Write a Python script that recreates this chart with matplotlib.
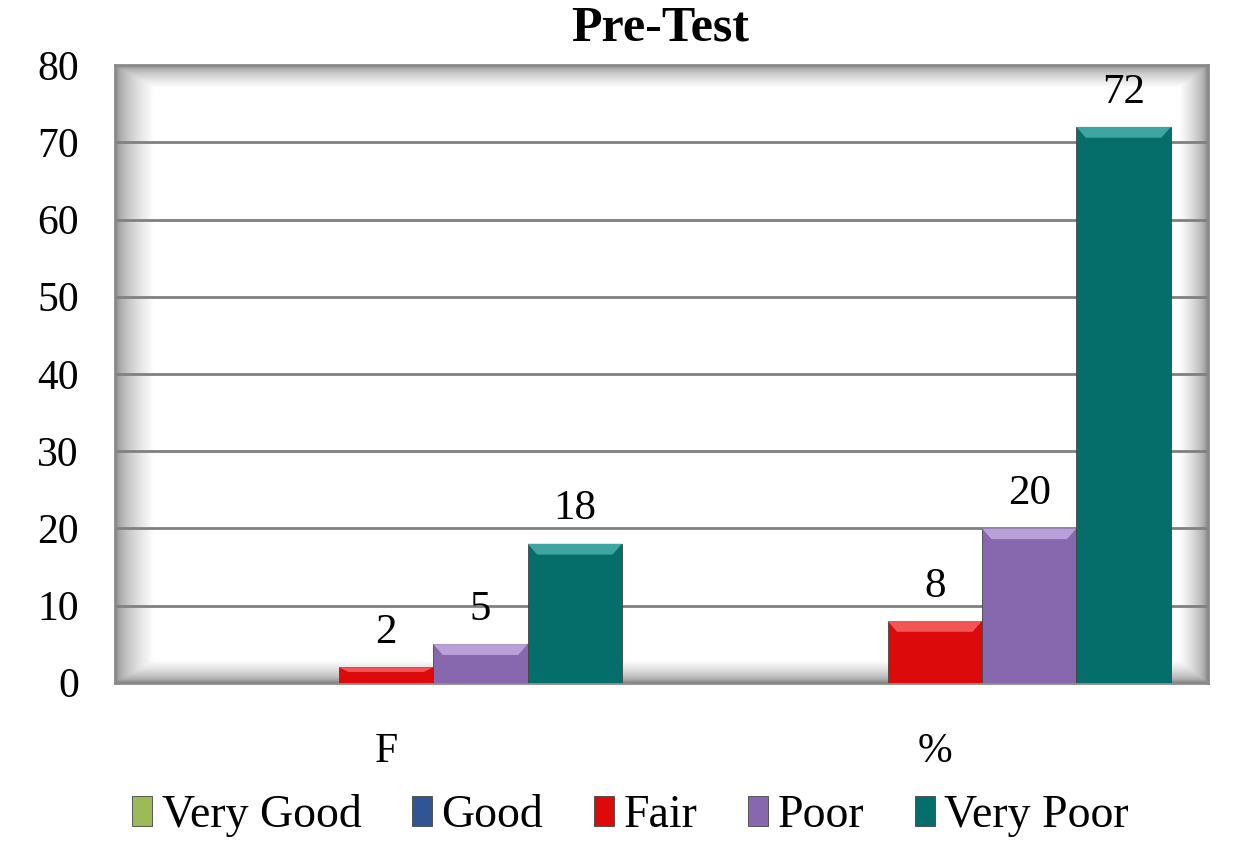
import numpy as np
import matplotlib.pyplot as plt
from matplotlib.patches import Polygon

groups = ['F', '%']
series = ['Very Good', 'Good', 'Fair', 'Poor', 'Very Poor']
values = {
    'Very Good': [0, 0],
    'Good': [0, 0],
    'Fair': [2, 8],
    'Poor': [5, 20],
    'Very Poor': [18, 72],
}
colors = {
    'Very Good': '#9BBB59',
    'Good': '#2F5592',
    'Fair': '#DC0A0A',
    'Poor': '#8767AE',
    'Very Poor': '#056E6B',
}
light = {
    'Very Good': '#C4DA8C',
    'Good': '#6C93D0',
    'Fair': '#F25555',
    'Poor': '#B9A0DA',
    'Very Poor': '#3FA5A0',
}

plt.rcParams['font.family'] = ['Liberation Serif', 'DejaVu Serif']

fig = plt.figure(figsize=(12.36, 8.46), dpi=100)
ax = fig.add_axes([0.093, 0.193, 0.884, 0.730])

# inner shadow of the plot area
H, W = 300, 550
yy, xx = np.mgrid[0:H, 0:W]
d_left = xx / (W * 0.035)
d_right = (W - 1 - xx) / (W * 0.025)
d_top = yy / (H * 0.035)
d_bot = (H - 1 - yy) / (H * 0.035)
d = np.minimum.reduce([d_left, d_right, d_top, d_bot])
shade = 0.55 + 0.45 * np.clip(d, 0, 1) ** 0.6
ax.imshow(shade, cmap='gray', vmin=0, vmax=1, extent=[0, 1, 0, 1],
          transform=ax.transAxes, aspect='auto', zorder=0, interpolation='bilinear')

x = np.arange(len(groups))
width = 0.172
for i, s in enumerate(series):
    pos = x + (i - 2) * width
    bars = ax.bar(pos, values[s], width, color=colors[s], edgecolor='#444444',
                  linewidth=0.6, label=s, zorder=3)
    for b, v in zip(bars, values[s]):
        if v <= 0:
            continue
        x0, w, h = b.get_x(), b.get_width(), b.get_height()
        bh = min(1.4, 0.3 * h)
        inset = 0.1 * w
        ax.add_patch(Polygon([[x0, h], [x0 + w, h], [x0 + w - inset, h - bh], [x0 + inset, h - bh]],
                             closed=True, facecolor=light[s], edgecolor='none', zorder=4))
        ax.annotate(str(v), (x0 + w / 2, h), xytext=(0, 11), textcoords='offset points',
                    ha='center', va='bottom', fontsize=31)

ax.set_xlim(-0.494, 1.497)
ax.set_ylim(0, 80)
ax.set_yticks(np.arange(0, 81, 10))
ax.set_xticks(x)
ax.set_xticklabels(groups)
ax.tick_params(axis='y', length=0, pad=26, labelsize=30)
ax.tick_params(axis='x', length=0, pad=36, labelsize=30)
ax.yaxis.grid(True, color='#808080', linewidth=2)
ax.set_axisbelow(True)
for sp in ax.spines.values():
    sp.set_color('#8a8a8a')
    sp.set_linewidth(2)

fig.text(0.534, 0.966, 'Pre-Test', ha='center', va='center', fontsize=36, fontweight='bold')

fig.legend(loc='lower center', bbox_to_anchor=(0.51, -0.022), ncol=5, frameon=False,
           fontsize=33, handlelength=0.45, handleheight=0.6, handletextpad=0.2,
           columnspacing=1.1, borderaxespad=0.2)

fig.savefig('out.png', dpi=100)
